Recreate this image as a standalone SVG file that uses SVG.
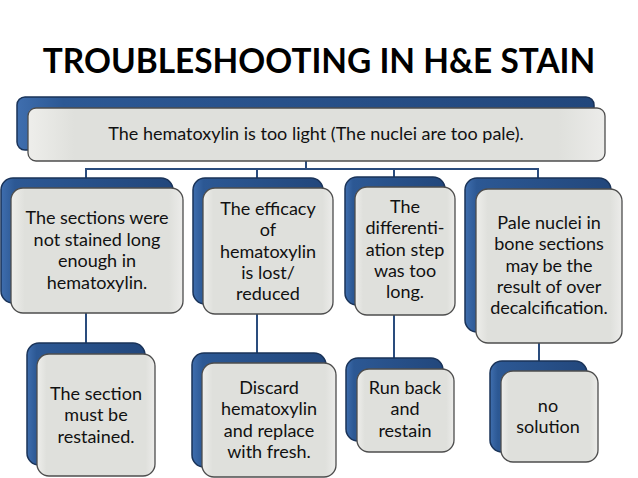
<svg xmlns="http://www.w3.org/2000/svg" width="638" height="478" viewBox="0 0 638 478">
<style>
.title{font-family:Lato,"Open Sans","Liberation Sans",sans-serif;font-weight:bold;font-size:33.4px;fill:#000;text-anchor:middle}
.t{font-family:Lato,"Open Sans","Liberation Sans",sans-serif;font-size:18px;fill:#111;text-anchor:middle}
.back{fill:url(#blue);stroke:#1a3358;stroke-width:1.5}
.front{fill:url(#gray);stroke:#4d4d4d;stroke-width:1.3}
.conn{fill:none;stroke:#2a4c7d;stroke-width:2}
</style>
<defs>
<linearGradient id="blue" x1="0" y1="0" x2="1" y2="0">
<stop offset="0" stop-color="#3f6eae"/>
<stop offset="0.08" stop-color="#2c5894"/>
<stop offset="1" stop-color="#22477c"/>
</linearGradient>
<linearGradient id="gray" x1="0" y1="0" x2="1" y2="0">
<stop offset="0" stop-color="#eeeeeb"/>
<stop offset="0.08" stop-color="#dfe0dc"/>
<stop offset="0.92" stop-color="#dfe0dc"/>
<stop offset="1" stop-color="#ececea"/>
</linearGradient>
</defs>
<rect width="638" height="478" fill="#fff"/>
<text class="title" x="319" y="73">TROUBLESHOOTING IN H&amp;E STAIN</text>
<g id="connectors">
<path class="conn" d="M306,161 V169 M86,178 V169 H538 V178 M257,169 V178 M394,169 V178"/>
<path class="conn" d="M86,313 V343 M257,314 V353 M394,315 V358 M539,343 V361"/>
</g>
<g id="top">
<rect class="back" x="17" y="97" width="577" height="53" rx="8"/>
<rect class="front" x="28" y="108" width="577" height="53" rx="8"/>
<text class="t" x="316" y="140">The hematoxylin is too light (The nuclei are too pale).</text>
</g>
<g id="n1">
<rect class="back" x="1" y="178" width="172" height="125" rx="12"/>
<rect class="front" x="11" y="188" width="172" height="125" rx="12"/>
<text class="t" x="97" y="224">The sections were</text>
<text class="t" x="97" y="245.5">not stained long</text>
<text class="t" x="97" y="267">enough in</text>
<text class="t" x="97" y="288.5">hematoxylin.</text>
</g>
<g id="n2">
<rect class="back" x="193" y="178" width="130" height="126" rx="12"/>
<rect class="front" x="203" y="188" width="130" height="126" rx="12"/>
<text class="t" x="268" y="215">The efficacy</text>
<text class="t" x="268" y="236.3">of</text>
<text class="t" x="268" y="257.6">hematoxylin</text>
<text class="t" x="268" y="279">is lost/</text>
<text class="t" x="268" y="300.3">reduced</text>
</g>
<g id="n3">
<rect class="back" x="345" y="177" width="100" height="128" rx="12"/>
<rect class="front" x="355" y="187" width="100" height="128" rx="12"/>
<text class="t" x="405" y="213">The</text>
<text class="t" x="405" y="234.3">differenti-</text>
<text class="t" x="405" y="255.6">ation step</text>
<text class="t" x="405" y="277">was too</text>
<text class="t" x="405" y="298.3">long.</text>
</g>
<g id="n4">
<rect class="back" x="465" y="178" width="146" height="154" rx="12"/>
<rect class="front" x="476" y="189" width="146" height="154" rx="12"/>
<text class="t" x="549" y="229">Pale nuclei in</text>
<text class="t" x="549" y="250.3">bone sections</text>
<text class="t" x="549" y="271.6">may be the</text>
<text class="t" x="549" y="293">result of over</text>
<text class="t" x="549" y="314.3">decalcification.</text>
</g>
<g id="n5">
<rect class="back" x="27" y="343" width="118" height="122" rx="12"/>
<rect class="front" x="37" y="354" width="118" height="122" rx="12"/>
<text class="t" x="96" y="400">The section</text>
<text class="t" x="96" y="421.3">must be</text>
<text class="t" x="96" y="442.6">restained.</text>
</g>
<g id="n6">
<rect class="back" x="192" y="353" width="134" height="114" rx="12"/>
<rect class="front" x="202" y="363" width="134" height="114" rx="12"/>
<text class="t" x="269" y="394">Discard</text>
<text class="t" x="269" y="415.3">hematoxylin</text>
<text class="t" x="269" y="436.6">and replace</text>
<text class="t" x="269" y="458">with fresh.</text>
</g>
<g id="n7">
<rect class="back" x="346" y="358" width="97" height="83" rx="12"/>
<rect class="front" x="357" y="369" width="97" height="83" rx="12"/>
<text class="t" x="405" y="394">Run back</text>
<text class="t" x="405" y="415.3">and</text>
<text class="t" x="405" y="436.6">restain</text>
</g>
<g id="n8">
<rect class="back" x="490" y="361" width="97" height="91" rx="12"/>
<rect class="front" x="501" y="371" width="97" height="91" rx="12"/>
<text class="t" x="548" y="412">no</text>
<text class="t" x="548" y="433">solution</text>
</g>
</svg>
